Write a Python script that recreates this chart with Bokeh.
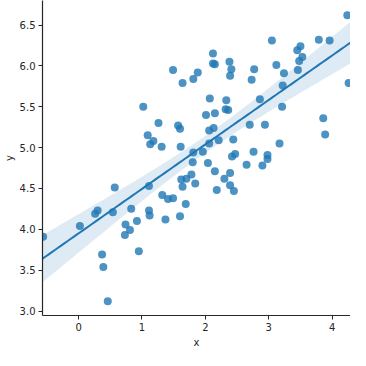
import numpy as np
from bokeh.plotting import figure
from bokeh.models import FixedTicker, Range1d
from bokeh.embed import file_html
from bokeh.resources import INLINE

x_vals = [-0.56, 0.02, 0.26, 0.30, 0.54, 0.37, 0.39, 0.46, 0.57, 0.74,
          0.73, 1.11, 0.83, 0.81, 0.92, 0.95, 1.11, 1.12, 1.37, 1.32,
          1.41, 1.49, 1.60, 1.69, 1.64, 1.62, 1.70, 1.78, 1.84, 1.80,
          1.81, 1.49, 1.64, 1.81, 1.88, 1.02, 1.26, 1.57, 1.60, 1.09,
          1.18, 1.13, 1.31, 1.61, 3.05, 2.12, 2.12, 2.15, 2.38, 2.41,
          2.39, 2.77, 2.73, 3.12, 2.07, 2.33, 2.01, 2.15, 2.32, 2.36,
          2.86, 2.70, 2.94, 2.06, 2.13, 2.06, 2.21, 2.44, 1.96, 2.42,
          2.47, 2.76, 2.98, 2.98, 2.65, 2.90, 2.04, 2.39, 2.15, 2.30,
          2.39, 2.45, 2.18, 4.24, 3.79, 3.96, 3.50, 3.45, 3.53, 3.48,
          3.46, 3.24, 3.22, 4.26, 3.21, 3.86, 3.89, 3.17]
y_vals = [3.91, 4.04, 4.19, 4.23, 4.21, 3.69, 3.54, 3.12, 4.51, 4.06,
          3.93, 4.53, 4.25, 3.99, 4.10, 3.73, 4.23, 4.17, 4.12, 4.42,
          4.37, 4.38, 4.16, 4.31, 4.52, 4.61, 4.62, 4.67, 4.56, 4.82,
          4.94, 5.95, 5.79, 5.84, 5.92, 5.50, 5.30, 5.27, 5.23, 5.15,
          5.08, 5.04, 5.01, 5.01, 6.31, 6.15, 6.03, 6.02, 6.05, 5.96,
          5.88, 5.96, 5.83, 6.01, 5.60, 5.58, 5.40, 5.42, 5.47, 5.46,
          5.59, 5.28, 5.28, 5.21, 5.24, 5.05, 5.09, 5.10, 4.95, 4.89,
          4.92, 4.95, 4.91, 4.86, 4.79, 4.78, 4.81, 4.69, 4.71, 4.62,
          4.54, 4.47, 4.48, 6.62, 6.32, 6.31, 6.24, 6.19, 6.11, 6.06,
          5.95, 5.91, 5.76, 5.79, 5.50, 5.36, 5.16, 5.05]
x_ticks = [0, 1, 2, 3, 4]
y_ticks = [3.0, 3.5, 4.0, 4.5, 5.0, 5.5, 6.0, 6.5]
x_label = "x"
y_label = "y"

X_MIN, X_MAX = -0.57, 4.29
Y_MIN, Y_MAX = 2.945, 6.80

xa = np.array(x_vals)
ya = np.array(y_vals)
n = len(xa)
slope, intercept = np.polyfit(xa, ya, 1)
grid = np.linspace(X_MIN, X_MAX, 100)
fit = intercept + slope * grid
resid = ya - (intercept + slope * xa)
s = np.sqrt(np.sum(resid ** 2) / (n - 2))
sxx = np.sum((xa - xa.mean()) ** 2)
se = s * np.sqrt(1.0 / n + (grid - xa.mean()) ** 2 / sxx)
t = 1.985
lo = fit - t * se
hi = fit + t * se

color = "#1f77b4"

p = figure(width=350, height=350, output_backend="svg", toolbar_location=None,
           x_range=Range1d(X_MIN, X_MAX), y_range=Range1d(Y_MIN, Y_MAX),
           min_border_left=30, min_border_right=0, min_border_top=0,
           min_border_bottom=30)
p.outline_line_color = None
p.xgrid.visible = False
p.ygrid.visible = False

p.varea(x=grid, y1=lo, y2=hi, fill_color=color, fill_alpha=0.15)
p.scatter(xa, ya, size=8, fill_color=color, fill_alpha=0.8, line_color=None)
p.line(grid, fit, line_color=color, line_width=2)

for ax in (p.xaxis[0], p.yaxis[0]):
    ax.axis_line_color = "#262626"
    ax.axis_line_width = 1.2
    ax.major_tick_line_color = "#262626"
    ax.major_tick_out = 4
    ax.major_tick_in = 0
    ax.minor_tick_line_color = None
    ax.major_label_text_font = "DejaVu Sans"
    ax.major_label_text_font_size = "10px"
    ax.major_label_text_color = "#262626"
    ax.axis_label_text_font = "DejaVu Sans"
    ax.axis_label_text_font_size = "10px"
    ax.axis_label_text_font_style = "normal"
    ax.axis_label_text_color = "#262626"

p.xaxis.ticker = FixedTicker(ticks=x_ticks)
p.yaxis.ticker = FixedTicker(ticks=y_ticks)
p.xaxis.major_label_overrides = {v: str(v) for v in x_ticks}
p.yaxis.major_label_overrides = {v: f"{v:.1f}" for v in y_ticks}
p.xaxis.axis_label = x_label
p.yaxis.axis_label = y_label
p.xaxis.axis_label_standoff = 3
p.yaxis.axis_label_standoff = 2
p.xaxis.major_label_standoff = 3
p.yaxis.major_label_standoff = 3

open("out.html", "w").write(file_html(p, INLINE))
